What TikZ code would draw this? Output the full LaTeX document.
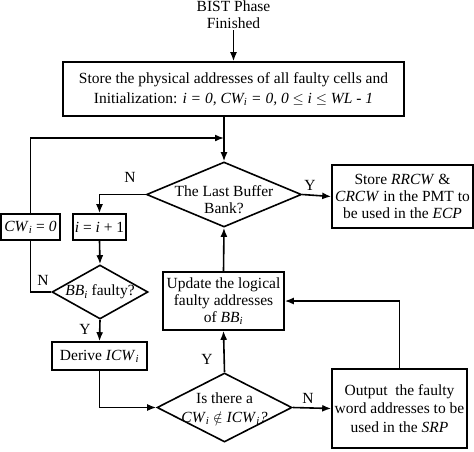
\documentclass[tikz,border=0pt]{standalone}
\usepackage{fontspec}
\setmainfont{Liberation Serif}
\usepackage{amsmath}
\usepackage{amssymb}
\usetikzlibrary{shapes.geometric,arrows.meta}
\newcommand{\subi}[1]{\textit{#1}\textsubscript{\textit{i}}}

\begin{document}
\begin{tikzpicture}[x=1pt,y=-1pt,
  >={Latex[length=9pt,width=7pt]},
  every node/.style={font=\fontsize{15.5}{17}\selectfont},
  proc/.style={draw, line width=1.6pt, align=center, inner sep=1pt},
  decide/.style={draw, diamond, line width=1.6pt, inner sep=0pt},
  flow/.style={line width=1.6pt},
  lbl/.style={inner sep=0pt}]
\useasboundingbox (0,0) rectangle (474,451);
% start and boxes:
\node[align=center, inner sep=1pt] (start) at (233.5,15) {BIST Phase\\Finished};
\node[proc, minimum width=341, minimum height=54, font=\fontsize{15.5}{20}\selectfont] (init) at (233.5,89)
  {Store the physical addresses of all faulty cells and\\
   Initialization: \textit{i = 0, \subi{CW} = 0, 0 $\le$ i $\le$ WL - 1}};
\node[proc, minimum width=141, minimum height=63] (store) at (402.5,196.5)
  {Store \textit{RRCW} \&\\\textit{CRCW} in the PMT to\\be used in the \textit{ECP}};
\node[proc, minimum width=59, minimum height=26] (cw) at (30.5,227) {\subi{CW} = \textit{0}};
\node[proc, minimum width=53, minimum height=26] (inc) at (99.5,227) {\textit{i} = \textit{i} + 1};
\node[proc, minimum width=95, minimum height=28] (derive) at (99.5,356) {Derive \subi{ICW}};
\node[proc, minimum width=121, minimum height=58] (update) at (223.5,301)
  {Update the logical\\faulty addresses\\of \subi{BB}};
\node[proc, minimum width=135, minimum height=79, font=\fontsize{15.5}{18.5}\selectfont] (output) at (399.5,408.5)
  {Output\ \ the faulty\\word addresses to be\\used in the \textit{SRP}};
% decisions:
\node[decide, minimum width=155, minimum height=65] (last) at (224,194.5) {};
\node[align=center, inner sep=0pt] (lastq) at (224,200) {The Last Buffer\\Bank?};
\node[decide, minimum width=96, minimum height=54] (faulty) at (100,292) {};
\node[inner sep=0pt] (faultyq) at (faulty) {\subi{BB} faulty?};
\node[decide, minimum width=135, minimum height=69] (there) at (224.5,407.5) {};
\node[align=center, inner sep=0pt, font=\fontsize{15.5}{19}\selectfont] (thereq) at (224.5,409)
  {Is there a\\\subi{CW} $\notin$ \subi{ICW}\textit{?}};
% connectors:
\coordinate (join) at (224,138);
\draw[flow,->] (start) -- (init.north);
\draw[flow,->] (init.south -| last.north) -- (last.north);
\draw[flow,->] (cw.north) |- (join);
\draw[flow,->] (last.west) -| (inc.north);
\draw[flow,->] (last.east) -- (store.west);
\draw[flow,->] (inc.south) -- (faulty.north);
\draw[flow] (faulty.west) -| (cw.south);
\draw[flow,->] (faulty.south) -- (derive.north);
\draw[flow,->] (derive.south) |- (there.west);
\draw[flow,->] (there.north) -- (update.south);
\draw[flow,->] (update.north) -- (last.south);
\draw[flow,->] (there.east) -- (output.west);
\draw[flow,->] (output.north) |- (update.east);
% branch labels:
\node[lbl] (n1) at (130,177) {N};
\node[lbl] (y1) at (310,185) {Y};
\node[lbl] (n2) at (43,280) {N};
\node[lbl] (y2) at (85,329) {Y};
\node[lbl] (y3) at (207,359) {Y};
\node[lbl] (n3) at (308,398) {N};
\end{tikzpicture}
\end{document}
